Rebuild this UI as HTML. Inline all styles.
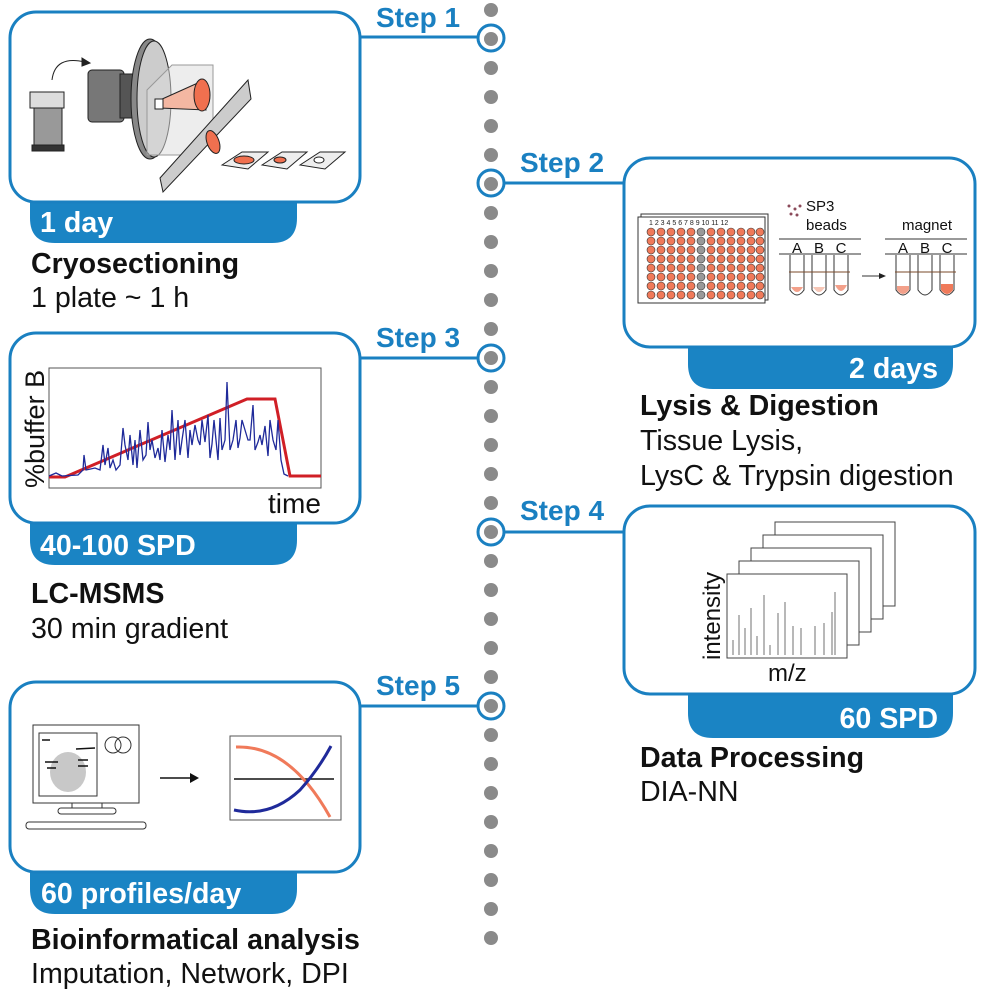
<!DOCTYPE html>
<html><head><meta charset="utf-8"><style>
html,body{margin:0;padding:0;background:#fff;}
svg{display:block;font-family:"Liberation Sans",Arial,sans-serif;}
</style></head><body>
<svg width="996" height="996" viewBox="0 0 996 996" xmlns="http://www.w3.org/2000/svg">
<defs>
<g id="well"><circle r="4" fill="#f07a5a" stroke="#333" stroke-width="0.6"/></g>
</defs>
<g fill="#8a8a8a">
<circle cx="491" cy="10" r="7"/><circle cx="491" cy="39" r="7"/><circle cx="491" cy="68" r="7"/><circle cx="491" cy="97" r="7"/><circle cx="491" cy="126" r="7"/><circle cx="491" cy="155" r="7"/><circle cx="491" cy="184" r="7"/><circle cx="491" cy="213" r="7"/><circle cx="491" cy="242" r="7"/><circle cx="491" cy="271" r="7"/><circle cx="491" cy="300" r="7"/><circle cx="491" cy="329" r="7"/><circle cx="491" cy="358" r="7"/><circle cx="491" cy="387" r="7"/><circle cx="491" cy="416" r="7"/><circle cx="491" cy="445" r="7"/><circle cx="491" cy="474" r="7"/><circle cx="491" cy="503" r="7"/><circle cx="491" cy="532" r="7"/><circle cx="491" cy="561" r="7"/><circle cx="491" cy="590" r="7"/><circle cx="491" cy="619" r="7"/><circle cx="491" cy="648" r="7"/><circle cx="491" cy="677" r="7"/><circle cx="491" cy="706" r="7"/><circle cx="491" cy="735" r="7"/><circle cx="491" cy="764" r="7"/><circle cx="491" cy="793" r="7"/><circle cx="491" cy="822" r="7"/><circle cx="491" cy="851" r="7"/><circle cx="491" cy="880" r="7"/><circle cx="491" cy="909" r="7"/><circle cx="491" cy="938" r="7"/>
</g>
<g fill="none" stroke="#1a80c1" stroke-width="3">
<circle cx="491" cy="38" r="13"/><circle cx="491" cy="183" r="13"/><circle cx="491" cy="358" r="13"/><circle cx="491" cy="532" r="13"/><circle cx="491" cy="706" r="13"/>
<line x1="360" y1="37" x2="478" y2="37"/>
<line x1="504" y1="183" x2="624" y2="183"/>
<line x1="360" y1="358" x2="478" y2="358"/>
<line x1="504" y1="532" x2="624" y2="532"/>
<line x1="360" y1="706" x2="478" y2="706"/>
</g>
<g fill="#1a80c1" font-weight="bold" font-size="28">
<text x="376" y="27">Step 1</text>
<text x="520" y="172">Step 2</text>
<text x="376" y="347">Step 3</text>
<text x="520" y="520">Step 4</text>
<text x="376" y="695">Step 5</text>
</g>
<g fill="#1a84c4">
<path d="M30 195 H297 V218 Q297 243 272 243 H55 Q30 243 30 218 Z"/>
<path d="M30 516 H297 V540 Q297 565 272 565 H55 Q30 565 30 540 Z"/>
<path d="M30 866 H297 V889 Q297 914 272 914 H55 Q30 914 30 889 Z"/>
<path d="M688 340 H953 V364 Q953 389 928 389 H713 Q688 389 688 364 Z"/>
<path d="M688 688 H953 V713 Q953 738 928 738 H713 Q688 738 688 713 Z"/>
</g>
<g fill="#fff" font-weight="bold" font-size="28.6">
<text x="40" y="232">1 day</text>
<text x="40" y="555">40-100 SPD</text>
<text x="41" y="903">60 profiles/day</text>
<text x="938" y="378" text-anchor="end">2 days</text>
<text x="938" y="728" text-anchor="end">60 SPD</text>
</g>
<g fill="#fff" stroke="#1a80c1" stroke-width="3">
<rect x="10" y="12" width="350" height="190" rx="26"/>
<rect x="10" y="333" width="350" height="190" rx="26"/>
<rect x="10" y="682" width="350" height="190" rx="26"/>
<rect x="624" y="158" width="351" height="189" rx="26"/>
<rect x="624" y="506" width="351" height="188" rx="26"/>
</g>
<g fill="#111" font-size="28.6">
<text x="31" y="273" font-weight="bold">Cryosectioning</text>
<text x="31" y="307">1 plate ~ 1 h</text>
<text x="31" y="603" font-weight="bold">LC-MSMS</text>
<text x="31" y="638">30 min gradient</text>
<text x="31" y="949" font-weight="bold">Bioinformatical analysis</text>
<text x="31" y="983">Imputation, Network, DPI</text>
<text x="640" y="415" font-weight="bold">Lysis &amp; Digestion</text>
<text x="640" y="450">Tissue Lysis,</text>
<text x="640" y="485">LysC &amp; Trypsin digestion</text>
<text x="640" y="767" font-weight="bold">Data Processing</text>
<text x="640" y="801">DIA-NN</text>
</g>
<g stroke="#222" stroke-width="1">
<path d="M52 80 Q55 55 85 62" fill="none"/><path d="M82 58 L90 63 L82 66 Z" fill="#222"/>
<rect x="30" y="92" width="34" height="16" fill="#ddd"/>
<rect x="34" y="108" width="28" height="40" fill="#999"/>
<rect x="32" y="145" width="32" height="6" fill="#333"/>
<rect x="88" y="70" width="36" height="52" rx="4" fill="#777"/>
<rect x="120" y="74" width="14" height="44" fill="#555"/>
<ellipse cx="150" cy="99" rx="19" ry="60" fill="#888"/>
<ellipse cx="154" cy="99" rx="17" ry="58" fill="#ccc"/>
<polygon points="147,90 172,65 213,65 213,130 188,155 147,155" fill="rgba(220,220,220,0.5)" stroke="#999"/>
<polygon points="160,100 200,82 206,110 160,108" fill="#f4b7a2"/>
<ellipse cx="202" cy="95" rx="8" ry="16" fill="#f0704f"/>
<rect x="155" y="99" width="8" height="10" fill="#fff"/>
<polygon points="160,178 248,80 251,99 163,192" fill="#ccc"/>
<ellipse cx="213" cy="142" rx="6" ry="12" fill="#f0704f" transform="rotate(-20 213 142)"/>
<polygon points="222,165 242,152 268,152 248,169" fill="#eee"/>
<ellipse cx="244" cy="160" rx="10" ry="4" fill="#f0704f"/>
<polygon points="262,165 282,152 307,152 287,169" fill="#eee"/>
<ellipse cx="280" cy="160" rx="6" ry="3" fill="#f0704f"/>
<polygon points="300,165 320,152 345,152 325,169" fill="#eee"/>
<ellipse cx="319" cy="160" rx="5" ry="3" fill="#fff"/>
</g>
<rect x="49" y="368" width="272" height="120" fill="none" stroke="#555" stroke-width="1"/>
<polyline points="49,477 65,477 247,399 275,399 290,476 321,476" fill="none" stroke="#d01f26" stroke-width="3"/>
<polyline fill="none" stroke="#1f2a9a" stroke-width="1.3" points="49,476 56,473 62,476 78,475 83,470 84,455 86,470 95,468 100,470 103,445 105,465 108,448 110,468 113,460 116,470 120,465 123,428 125,445 128,460 130,435 133,465 135,440 137,468 140,430 143,460 146,455 148,422 150,450 152,440 155,458 158,448 160,460 162,430 165,462 168,435 170,450 172,410 175,460 178,420 180,455 182,440 185,420 188,458 190,430 192,445 195,425 198,440 200,445 202,420 205,442 208,415 210,458 212,444 214,420 218,460 220,418 222,450 225,440 227,382 230,450 233,440 236,420 238,448 240,438 242,420 245,430 248,440 250,440 253,405 255,450 258,442 260,435 262,445 265,426 268,456 270,420 273,440 276,450 278,420 281,460 284,474 288,476"/>
<text x="268" y="513" font-size="28" fill="#111">time</text>
<text transform="translate(44,488) rotate(-90)" font-size="27" fill="#111">%buffer B</text>
<rect x="641" y="214" width="127" height="86" fill="#fff" stroke="#333"/>
<rect x="638" y="217" width="127" height="86" fill="#fff" stroke="#333"/>
<g font-size="7" fill="#222">
<text x="649" y="225">1  2  3  4  5  6  7  8  9 10 11 12</text>
</g>
<g transform="translate(651,232)">
<g id="row"><use href="#well" x="0"/><use href="#well" x="10"/><use href="#well" x="20"/><use href="#well" x="30"/><use href="#well" x="40"/><circle cx="50" r="4" fill="#999" stroke="#333" stroke-width="0.6"/><use href="#well" x="60"/><use href="#well" x="70"/><use href="#well" x="80"/><use href="#well" x="90"/><use href="#well" x="100"/><use href="#well" x="109"/></g>
<use href="#row" y="9"/><use href="#row" y="18"/><use href="#row" y="27"/><use href="#row" y="36"/><use href="#row" y="45"/><use href="#row" y="54"/><use href="#row" y="63"/>
</g>
<g fill="#8b4a5a"><circle cx="789" cy="206" r="1.5"/><circle cx="795" cy="209" r="1.5"/><circle cx="800" cy="206" r="1.5"/><circle cx="791" cy="214" r="1.5"/><circle cx="797" cy="215" r="1.5"/></g>
<g font-size="15" fill="#111"><text x="806" y="211">SP3</text><text x="806" y="230">beads</text><text x="902" y="230">magnet</text>
<text x="797" y="253" text-anchor="middle">A</text><text x="819" y="253" text-anchor="middle">B</text><text x="841" y="253" text-anchor="middle">C</text>
<text x="903" y="253" text-anchor="middle">A</text><text x="925" y="253" text-anchor="middle">B</text><text x="947" y="253" text-anchor="middle">C</text></g>
<g stroke="#333" stroke-width="1" fill="none">
<line x1="779" y1="239" x2="861" y2="239"/><line x1="779" y1="254" x2="861" y2="254"/>
<line x1="885" y1="239" x2="967" y2="239"/><line x1="885" y1="254" x2="967" y2="254"/>
<path d="M790 255 V290 Q797 300 804 290 V255"/><path d="M812 255 V290 Q819 300 826 290 V255"/><path d="M834 255 V290 Q841 300 848 290 V255"/>
<path d="M896 255 V290 Q903 300 910 290 V255"/><path d="M918 255 V290 Q925 300 932 290 V255"/><path d="M940 255 V290 Q947 300 954 290 V255"/>
<line x1="789" y1="272" x2="850" y2="272" stroke="#7a4a2a"/><line x1="895" y1="272" x2="956" y2="272" stroke="#7a4a2a"/>
<line x1="862" y1="276" x2="880" y2="276"/>
</g>
<path d="M886 276 L879 273 L879 279 Z" fill="#222"/>
<g fill="#f3a08a"><path d="M791 287 H803 Q797 297 791 287"/><path d="M813 287 H825 Q819 297 813 287" fill="#f6c6b6"/><path d="M835 285 H847 Q841 297 835 285"/>
<path d="M897 286 H909 V290 Q903 298 897 290Z"/><path d="M941 284 H953 V290 Q947 298 941 290Z" fill="#f07a5a"/></g>
<g fill="#fff" stroke="#444" stroke-width="1">
<rect x="775" y="522" width="120" height="84"/>
<rect x="763" y="535" width="120" height="84"/>
<rect x="751" y="548" width="120" height="84"/>
<rect x="739" y="561" width="120" height="84"/>
<rect x="727" y="574" width="120" height="84"/>
</g>
<g stroke="#888" stroke-width="1.2">
<line x1="733" y1="655" x2="733" y2="640"/><line x1="739" y1="655" x2="739" y2="615"/><line x1="745" y1="655" x2="745" y2="628"/><line x1="751" y1="655" x2="751" y2="608"/><line x1="757" y1="655" x2="757" y2="636"/><line x1="764" y1="655" x2="764" y2="595"/><line x1="770" y1="655" x2="770" y2="645"/><line x1="778" y1="655" x2="778" y2="613"/><line x1="785" y1="655" x2="785" y2="602"/><line x1="793" y1="655" x2="793" y2="626"/><line x1="801" y1="655" x2="801" y2="628"/><line x1="815" y1="655" x2="815" y2="626"/><line x1="824" y1="655" x2="824" y2="623"/><line x1="832" y1="655" x2="832" y2="612"/><line x1="835" y1="655" x2="835" y2="592"/>
</g>
<text transform="translate(720,660) rotate(-90)" font-size="24" fill="#111">intensity</text>
<text x="768" y="681" font-size="24" fill="#111">m/z</text>
<g stroke="#333" stroke-width="1" fill="#fff">
<rect x="33" y="725" width="106" height="78"/>
<rect x="39" y="733" width="58" height="63"/>
<rect x="72" y="803" width="30" height="5"/>
<rect x="58" y="808" width="58" height="6" rx="3"/>
<rect x="26" y="822" width="120" height="7" rx="3"/>
<circle cx="113" cy="745" r="8" fill="none"/><circle cx="123" cy="745" r="8" fill="none"/>
</g>
<ellipse cx="68" cy="772" rx="18" ry="20" fill="#c8c8c8"/>
<g stroke="#111" stroke-width="1.5"><line x1="45" y1="762" x2="58" y2="762"/><line x1="47" y1="768" x2="56" y2="768"/><line x1="78" y1="766" x2="88" y2="766"/><line x1="78" y1="760" x2="88" y2="760"/><line x1="76" y1="749" x2="95" y2="748"/><line x1="42" y1="740" x2="50" y2="740"/></g>
<line x1="160" y1="778" x2="195" y2="778" stroke="#111" stroke-width="1.5"/><path d="M199 778 L190 773 L190 783 Z" fill="#111"/>
<rect x="230" y="736" width="111" height="84" fill="#fff" stroke="#555"/>
<line x1="234" y1="779" x2="334" y2="779" stroke="#111" stroke-width="1.5"/>
<path d="M236 747 Q290 745 330 817" fill="none" stroke="#f07a5a" stroke-width="3"/>
<path d="M234 810 Q270 818 300 790 Q318 770 331 746" fill="none" stroke="#1f2a9a" stroke-width="3"/>
</svg>
</body></html>
